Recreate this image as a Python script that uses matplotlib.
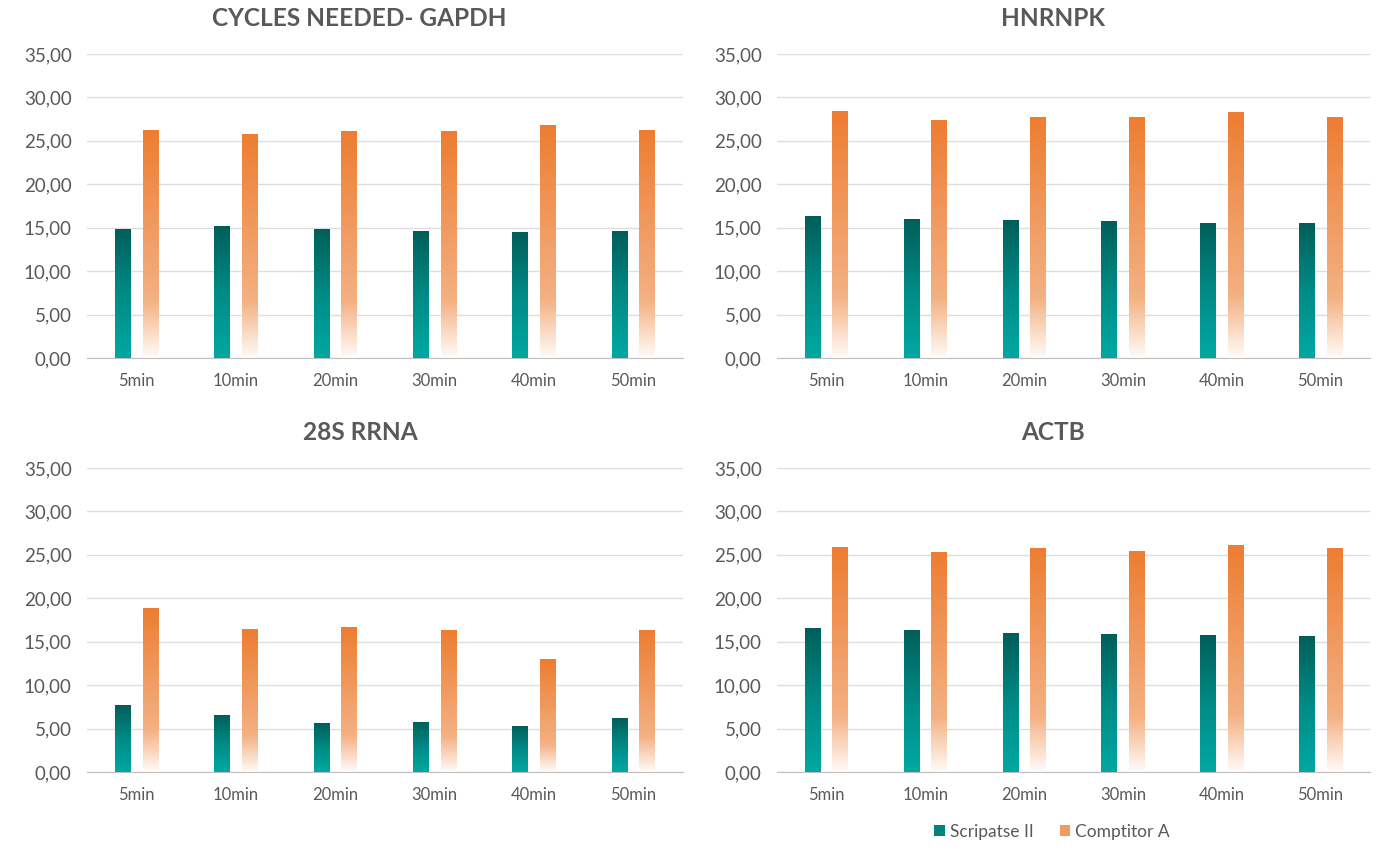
import matplotlib
matplotlib.use("Agg")
import matplotlib.pyplot as plt
import numpy as np
from matplotlib.colors import LinearSegmentedColormap
from matplotlib.patches import Patch
from matplotlib.ticker import FuncFormatter

plt.rcParams['font.family'] = ['Lato', 'DejaVu Sans']

categories = ['5min', '10min', '20min', '30min', '40min', '50min']
series_names = ['Scripatse II', 'Comptitor A']

titles = ['CYCLES NEEDED- GAPDH', 'HNRNPK', '28S RRNA', 'ACTB']

gapdh_scripatse = [14.9, 15.2, 14.8, 14.6, 14.5, 14.6]
gapdh_comptitor = [26.3, 25.8, 26.1, 26.1, 26.8, 26.3]

hnrnpk_scripatse = [16.3, 16.0, 15.9, 15.8, 15.6, 15.6]
hnrnpk_comptitor = [28.4, 27.4, 27.8, 27.8, 28.3, 27.8]

rrna28s_scripatse = [7.7, 6.6, 5.6, 5.8, 5.3, 6.2]
rrna28s_comptitor = [18.9, 16.5, 16.7, 16.4, 13.0, 16.4]

actb_scripatse = [16.6, 16.4, 16.0, 15.9, 15.8, 15.7]
actb_comptitor = [25.9, 25.3, 25.8, 25.4, 26.1, 25.8]

panels = [
    (gapdh_scripatse, gapdh_comptitor),
    (hnrnpk_scripatse, hnrnpk_comptitor),
    (rrna28s_scripatse, rrna28s_comptitor),
    (actb_scripatse, actb_comptitor),
]

# gradients, bottom -> top
teal_cmap = LinearSegmentedColormap.from_list('teal', ['#00A8A2', '#008A85', '#005E59'])
orange_cmap = LinearSegmentedColormap.from_list(
    'orange', [(0.0, '#FFFBF8'), (0.25, '#F4B183'), (1.0, '#ED7D31')])
grad = np.linspace(0, 1, 256).reshape(-1, 1)

text_color = '#595959'

fig = plt.figure(figsize=(13.79, 8.52), dpi=100)
W, H = 1379, 852

# axes boxes in pixels: left, right, y of 0, y of 35
boxes = [(87, 683, 358, 54), (777, 1370, 358, 54),
         (87, 683, 772, 468), (777, 1370, 772, 468)]
title_pos = [(359, 18), (1053, 18), (360, 432), (1053, 432)]

x = np.arange(len(categories))
bw = 0.156
off = 0.139

for i, (s1, s2) in enumerate(panels):
    l, r, y0, y1 = boxes[i]
    ax = fig.add_axes([l / W, 1 - y0 / H, (r - l) / W, (y0 - y1) / H])

    for vals, cmap, dx in [(s1, teal_cmap, -off), (s2, orange_cmap, off)]:
        bars = ax.bar(x + dx, vals, width=bw, facecolor='none', edgecolor='none', zorder=3)
        for b in bars:
            bx, bh = b.get_x(), b.get_height()
            im = ax.imshow(grad, cmap=cmap, origin='lower', aspect='auto',
                           extent=[bx, bx + b.get_width(), 0, bh], zorder=3,
                           interpolation='bilinear')
            im.set_clip_path(b)

    ax.set_xlim(-0.5, len(categories) - 0.5)
    ax.set_ylim(0, 35)
    ax.set_yticks(np.arange(0, 36, 5))
    ax.yaxis.set_major_formatter(FuncFormatter(lambda v, p: f'{v:.2f}'.replace('.', ',')))
    ax.set_xticks(x)
    ax.set_xticklabels(categories)
    ax.grid(axis='y', color='#DEDEDE', linewidth=1, zorder=0)
    ax.set_axisbelow(True)
    for sp in ['top', 'left', 'right']:
        ax.spines[sp].set_visible(False)
    ax.spines['bottom'].set_color('#BFBFBF')
    ax.tick_params(axis='both', length=0, colors=text_color)
    ax.tick_params(axis='y', labelsize=13.5, pad=11)
    ax.tick_params(axis='x', labelsize=12, pad=11)

    tx, ty = title_pos[i]
    fig.text(tx / W, 1 - ty / H, titles[i], ha='center', va='center',
             fontsize=17.6, fontweight='bold', color=text_color)

handles = [Patch(facecolor='#00837E', edgecolor='none'),
           Patch(facecolor='#F29B5F', edgecolor='none')]
fig.legend(handles, series_names, loc='center', bbox_to_anchor=(1052 / W, 1 - 832 / H),
           ncol=2, frameon=False, fontsize=12.5, labelcolor=text_color,
           handlelength=0.6, handleheight=0.6, handletextpad=0.3, columnspacing=1.5)

fig.savefig('out.png', dpi=100)
